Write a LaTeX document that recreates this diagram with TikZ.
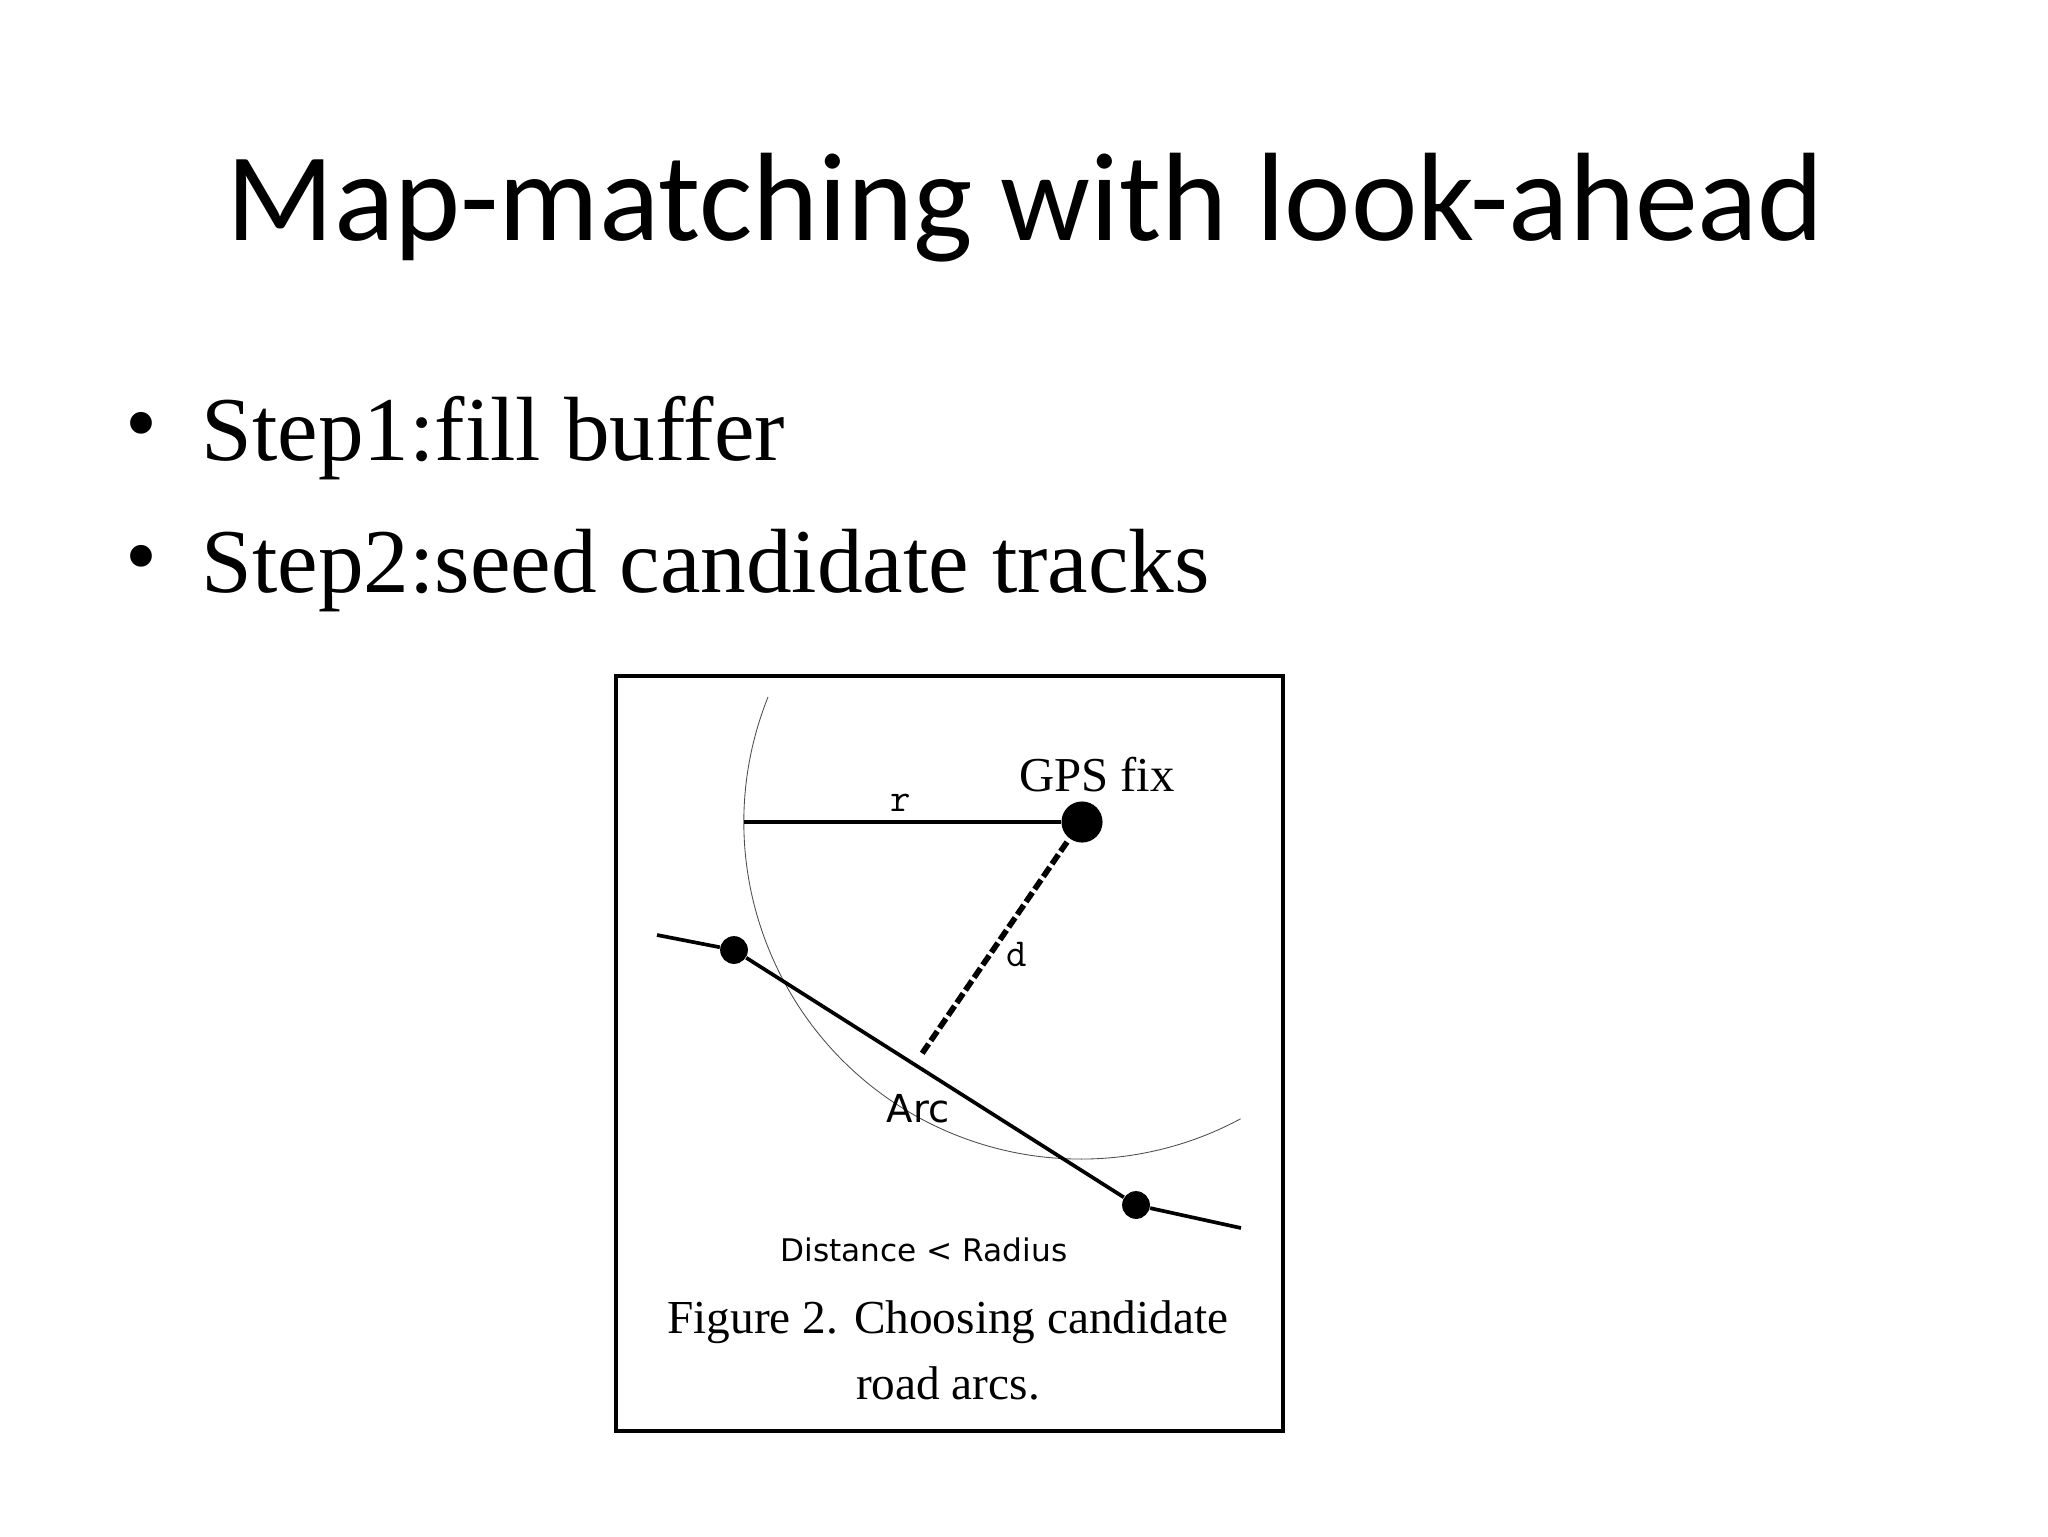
\documentclass[tikz,border=0pt]{standalone}
\usepackage{fontspec}
\setmainfont{Liberation Serif}
\newfontfamily\titlefont{Carlito}
\newfontfamily\labelfont{DejaVu Sans}
\usetikzlibrary{positioning}

\begin{document}
\begin{tikzpicture}[
    x=0.0124023cm, y=-0.0124023cm,
    heading/.style={anchor=base west, inner sep=0pt, font=\titlefont\fontsize{44.4}{53}\selectfont},
    bullet/.style={anchor=base west, inner sep=0pt, font=\fontsize{32.2}{38}\selectfont},
    waypoint/.style={circle, fill=black, inner sep=0pt, minimum size=9.8pt},
    gpsdot/.style={circle, fill=black, inner sep=0pt, minimum size=14.5pt},
    fig label/.style={inner sep=0pt, font=\fontsize{16.7}{19}\selectfont},
    road/.style={line width=1.3pt, draw=black}
]
\useasboundingbox (0,0) rectangle (2048,1536);

\node[heading] (title) at (226,240) {Map-matching with look-ahead};
\node[bullet] (dotA) at (125,453) {•};
\node[bullet] (stepA) at (201,460) {Step1:fill buffer};
\node[bullet] (dotB) at (125,586) {•};
\node[bullet] (stepB) at (201,592) {Step2:seed candidate tracks};

\draw[line width=1.6pt] (616,676) rectangle (1283,1431);

\node[gpsdot] (fix) at (1082,822) {};
\node[waypoint] (arcA) at (734,950) {};
\node[waypoint] (arcB) at (1136,1205) {};
\coordinate (rimStart) at (768,697);
\coordinate (rimLeft) at (744,822);
\coordinate (roadIn) at (657,935);
\coordinate (roadOut) at (1241,1228);
\coordinate (foot) at (921,1055);

\draw[line width=0.3pt, draw=black!70] (rimStart) arc[start angle=158.2, end angle=298.3, radius=4.18cm];
\draw[road] (rimLeft) -- (fix);
\draw[road] (roadIn) -- (arcA);
\draw[road] (arcA) -- (arcB);
\draw[road] (arcB) -- (roadOut);
\draw[line width=2pt, dash pattern=on 4pt off 1.4pt] (fix) ++(-15,20) -- (foot);

\node[inner sep=0pt, font=\fontsize{17.2}{20}\selectfont] (fixname) at (1097,775) {GPS fix};
\node[inner sep=0pt, font=\ttfamily\fontsize{14}{16}\selectfont] (rname) at (901,803) {r};
\node[inner sep=0pt, font=\ttfamily\fontsize{14}{16}\selectfont] (dname) at (1017,954) {d};
\node[inner sep=0pt, font=\labelfont\fontsize{13.6}{16}\selectfont] (arcname) at (918,1109) {Arc};
\node[inner sep=0pt, font=\labelfont\fontsize{11}{13}\selectfont] (rule) at (924,1250) {Distance < Radius};
\node[fig label] (capA) at (948,1322) {Figure 2. Choosing candidate};
\node[fig label] (capB) at (948,1383) {road arcs.};
\end{tikzpicture}
\end{document}
